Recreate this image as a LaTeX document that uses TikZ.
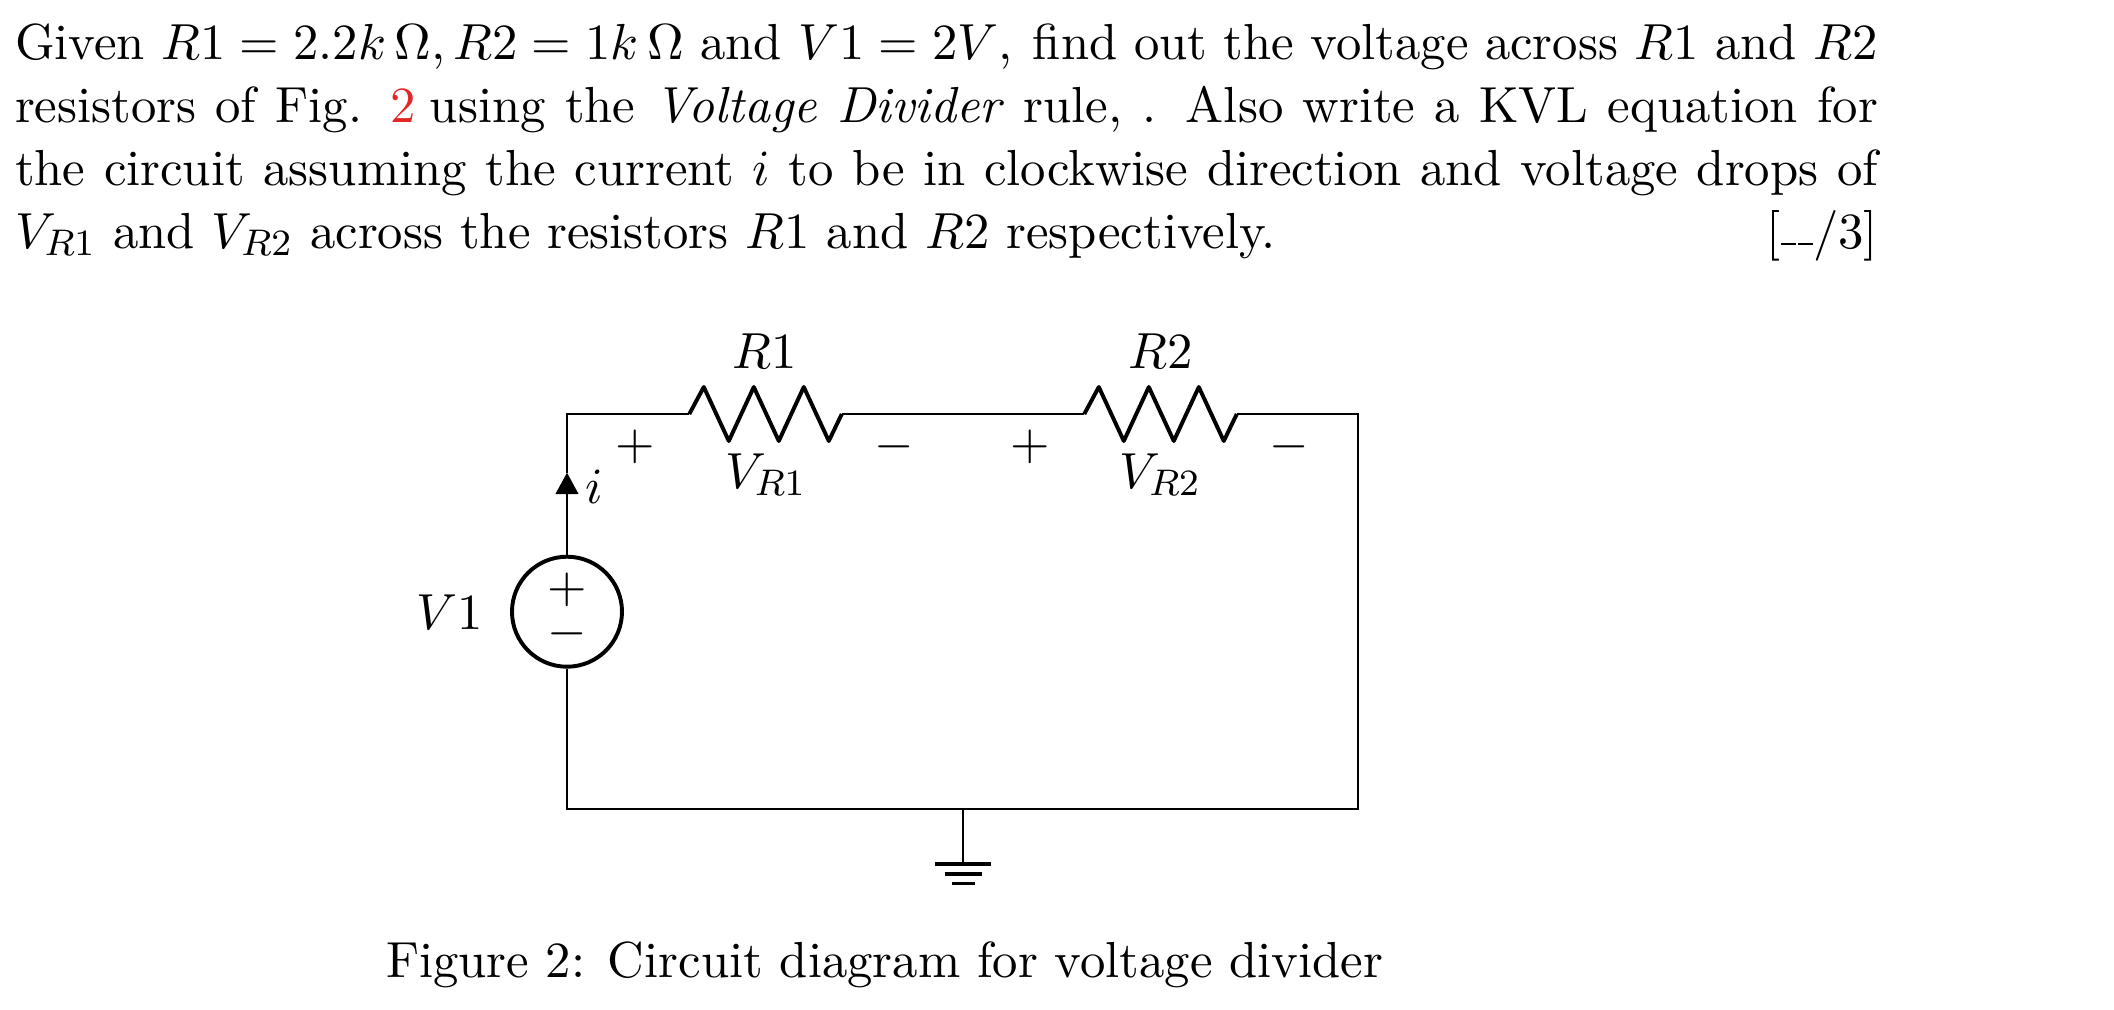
\documentclass[11pt,tikz,border=0pt]{standalone}
\usetikzlibrary{arrows.meta}
\definecolor{refred}{RGB}{227,38,38}
\tikzset{
  wire/.style={line width=0.42pt,line join=miter},
  part/.style={line width=0.85pt,line join=round},
  tline/.style={inner sep=0pt,outer sep=0pt,anchor=base west},
  tend/.style={inner sep=0pt,outer sep=0pt,anchor=base east},
  label/.style={inner sep=0pt,outer sep=0pt,anchor=base},
  sign/.style={inner sep=0pt,outer sep=0pt,anchor=center},
  source/.style={circle,draw,line width=0.85pt,minimum size=110*0.216pt,inner sep=0pt}
}
\newcommand{\fitline}[1]{\makebox[402.4pt][s]{#1}}
\newcommand{\blankdash}{\rule[0.6pt]{3.3pt}{0.4pt}}
\begin{document}
\begin{tikzpicture}[x=0.216pt,y=-0.216pt]
\useasboundingbox (0,0) rectangle (2114,1010);
% paragraph
\node[tline] (l1) at (15,59) {\fitline{Given $R1=2.2k\,\Omega, R2=1k\,\Omega$ and $V1=2V$,\kern0.8pt{} find out the voltage across $R1$ and $R2$}};
\node[tline] (l2) at (15,122) {\fitline{resistors of Fig.\ \kern2pt\textcolor{refred}{2}\kern-1.2pt{} using the \emph{Voltage Divider} rule, . Also write a KVL equation for}};
\node[tline] (l3) at (15,185) {\fitline{the circuit assuming the current $i$ to be in clockwise direction and voltage drops of}};
\node[tline] (l4) at (15,248) {$V_{R1}$ and $V_{R2}$ across the resistors $R1$ and $R2$ respectively.};
\node[tend] (mark) at (1878,248) {[\blankdash\kern0.4pt\blankdash/3]};
% circuit anchors
\node[source] (V) at (567,611.7) {};
\node[sign] (Vp) at (567,590) {$+$};
\node[sign] (Vm) at (567,634) {$-$};
\coordinate (tl) at (567,414);
\coordinate (tr) at (1358,414);
\coordinate (br) at (1358,809);
\coordinate (bl) at (567,809);
\coordinate (gtop) at (963,809);
\coordinate (arr) at (567,472.7);
\coordinate (r1a) at (689.3,414);
\coordinate (r1b) at (841.7,414);
\coordinate (r2a) at (1084.3,414);
\coordinate (r2b) at (1236.7,414);
% wires
\draw[wire] (V.south) -- (bl) -- (br) -- (tr) -- (r2b);
\draw[wire] (r2a) -- (r1b);
\draw[wire] (r1a) -- (tl) -- (arr);
\draw[wire,-{Triangle[length=4.6pt,width=4.9pt]}] (V.north) -- (arr);
% resistors
\foreach \r in {r1a,r2a}{
  \draw[part] (\r) -- ++(14.5,-27) -- ++(25,54) -- ++(25,-54) -- ++(25,54) -- ++(25,-54) -- ++(25,54) -- ++(13,-27);
}
% ground
\coordinate (g1) at (963,864);
\draw[wire] (gtop) -- (g1);
\draw[part] (g1) ++(-28,0) -- ++(56,0);
\draw[part] (g1) ++(-18.5,10) -- ++(37,0);
\draw[part] (g1) ++(-11.5,19.5) -- ++(23,0);
% labels
\node[label] (lV1) at (450,629) {$V1$};
\node[label] (li) at (594,503) {$i$};
\node[label] (lR1) at (765,368) {$R1$};
\node[label] (lR2) at (1161,368) {$R2$};
\node[label] (lVR1) at (766,488) {$V_{R1}$};
\node[label] (lVR2) at (1160.5,488) {$V_{R2}$};
\node[sign] (p1) at (635,447) {$+$};
\node[sign] (m1) at (894,447) {$-$};
\node[sign] (p2) at (1030,447) {$+$};
\node[sign] (m2) at (1289,447) {$-$};
% caption
\node[tline] (cap) at (386,977) {Figure 2: Circuit diagram for voltage divider};
\end{tikzpicture}
\end{document}
